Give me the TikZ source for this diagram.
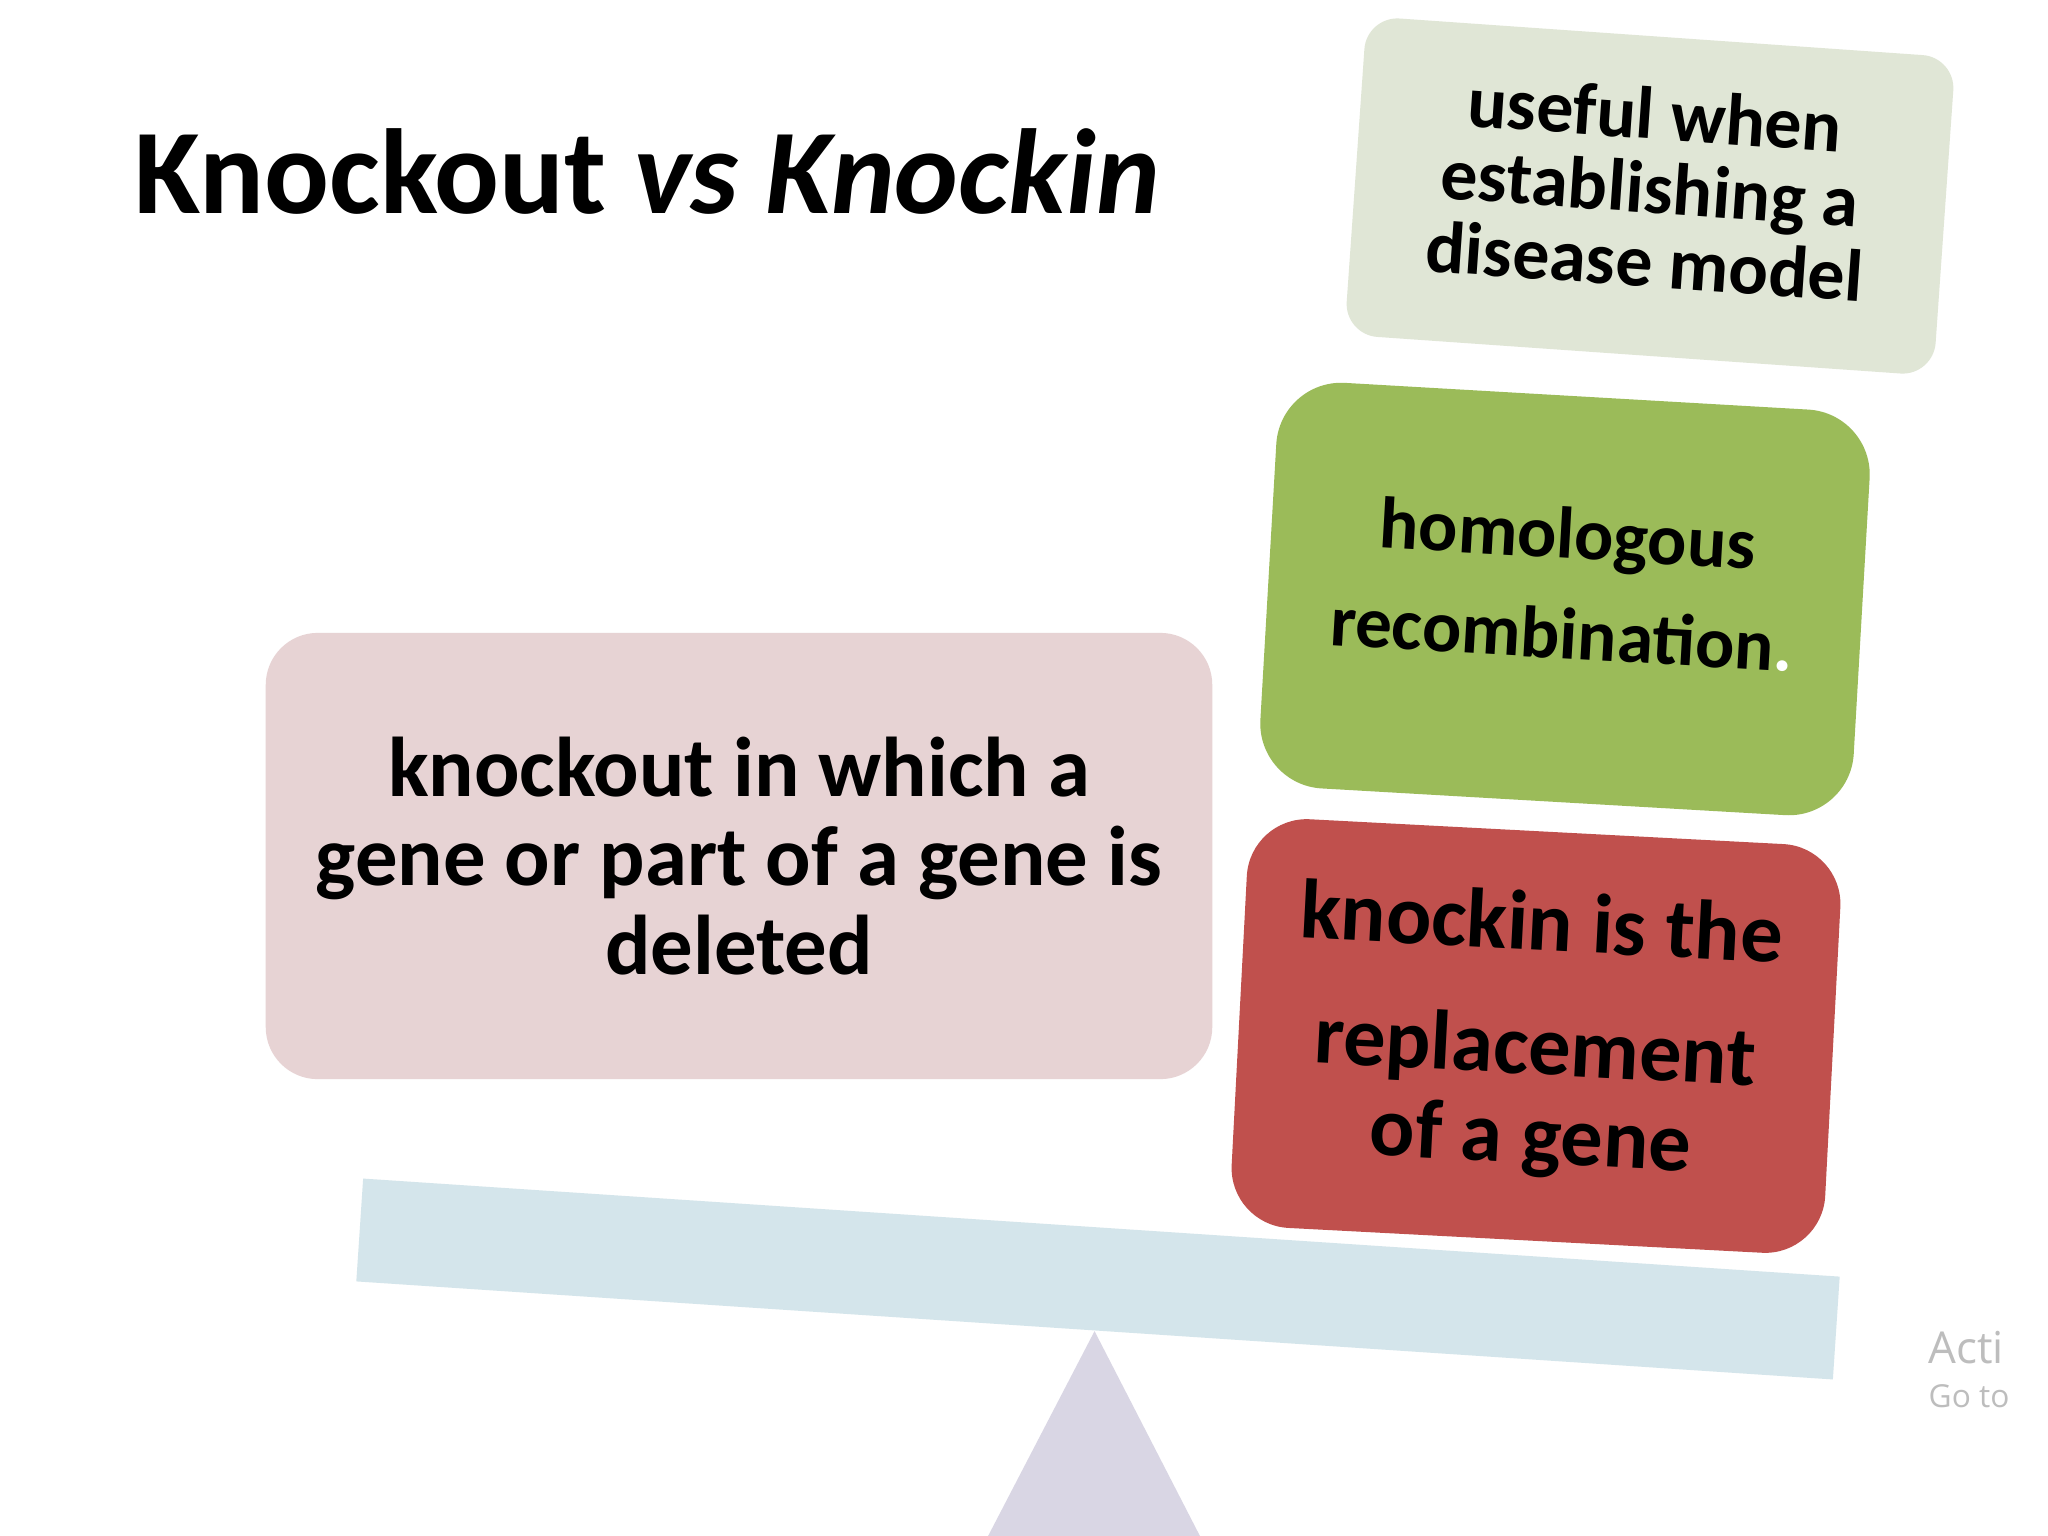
\documentclass[tikz,border=0pt]{standalone}
\usepackage{fontspec}
\setmainfont{Carlito}
\newfontfamily\wmfont{Open Sans}
\definecolor{topbox}{HTML}{E0E6D6}
\definecolor{greenbox}{HTML}{9BBB59}
\definecolor{redbox}{HTML}{C0504D}
\definecolor{pinkbox}{HTML}{E7D3D4}
\definecolor{beamcol}{HTML}{D4E5EB}
\definecolor{fulcol}{HTML}{D9D6E4}
\definecolor{wmgray}{HTML}{BDBDBD}
\tikzset{
  card/.style={rectangle, inner sep=0pt, align=center, text=black, font=\bfseries},
  cardtext/.style={inner sep=0pt, align=center, text=black},
  wmtext/.style={anchor=base west, inner sep=0pt, text=wmgray},
}
\begin{document}
\begin{tikzpicture}[x=0.01cm,y=-0.01cm]
\useasboundingbox (0,0) rectangle (2048,1536);
\fill[white] (0,0) rectangle (2048,1536);
% title
\node[anchor=base west, inner sep=0pt] (title) at (134,213)
  {\fontsize{34.4}{34.4}\selectfont\bfseries Knockout \textit{vs Knockin}};
% beam and fulcrum
\node[rectangle, fill=beamcol, rotate=-3.8, minimum width=14.79cm, minimum height=1.03cm, inner sep=0pt] (beam) at (1098,1279) {};
\fill[fulcol] (beam.south) -- (986,1540) -- (1202,1540) -- cycle;
% left box
\node[card, fill=pinkbox, rounded corners=0.52cm, minimum width=9.46cm, minimum height=4.46cm,
  font=\bfseries\fontsize{24.1}{25.3}\selectfont] (ko) at (739,856)
  {knockout in which a\\gene or part of a gene is\\deleted};
% right stack
\node[card, fill=redbox, rounded corners=0.6cm, rotate=-3, minimum width=5.94cm, minimum height=4.09cm] (ki) at (1536,1036) {};
\node[cardtext, rotate=-3, font=\bfseries\fontsize{24}{25.3}\selectfont] (kitext) at ([yshift=0.5pt]ki.center)
  {knockin is the\\[10pt]replacement\\of a gene};
\node[card, fill=greenbox, rounded corners=0.65cm, rotate=-3.3, minimum width=5.94cm, minimum height=4.06cm] (hr) at (1565,599) {};
\node[cardtext, rotate=-3.3, font=\bfseries\fontsize{20.8}{28.5}\selectfont] (hrtext) at ([yshift=4.5pt]hr.center)
  {homologous\\recombination\textcolor{white}{.}};
\node[card, fill=topbox, rounded corners=0.33cm, rotate=-4, minimum width=5.9cm, minimum height=3.19cm] (use) at (1650,196) {};
\node[cardtext, rotate=-4, font=\bfseries\fontsize{21}{21}\selectfont] (usetext) at ([yshift=2.5pt]use.center)
  {useful when\\establishing a\\disease model};
% watermark (clipped at the screenshot edge)
\begin{scope}
\clip (0,0) rectangle (2008,1536);
\node[wmtext, font=\wmfont\fontsize{12.5}{12.5}\selectfont] (wm1) at (1928,1363) {Acti};
\node[wmtext, font=\wmfont\fontsize{9}{9}\selectfont] (wm2) at (1928,1407) {Go to};
\end{scope}
\end{tikzpicture}
\end{document}
